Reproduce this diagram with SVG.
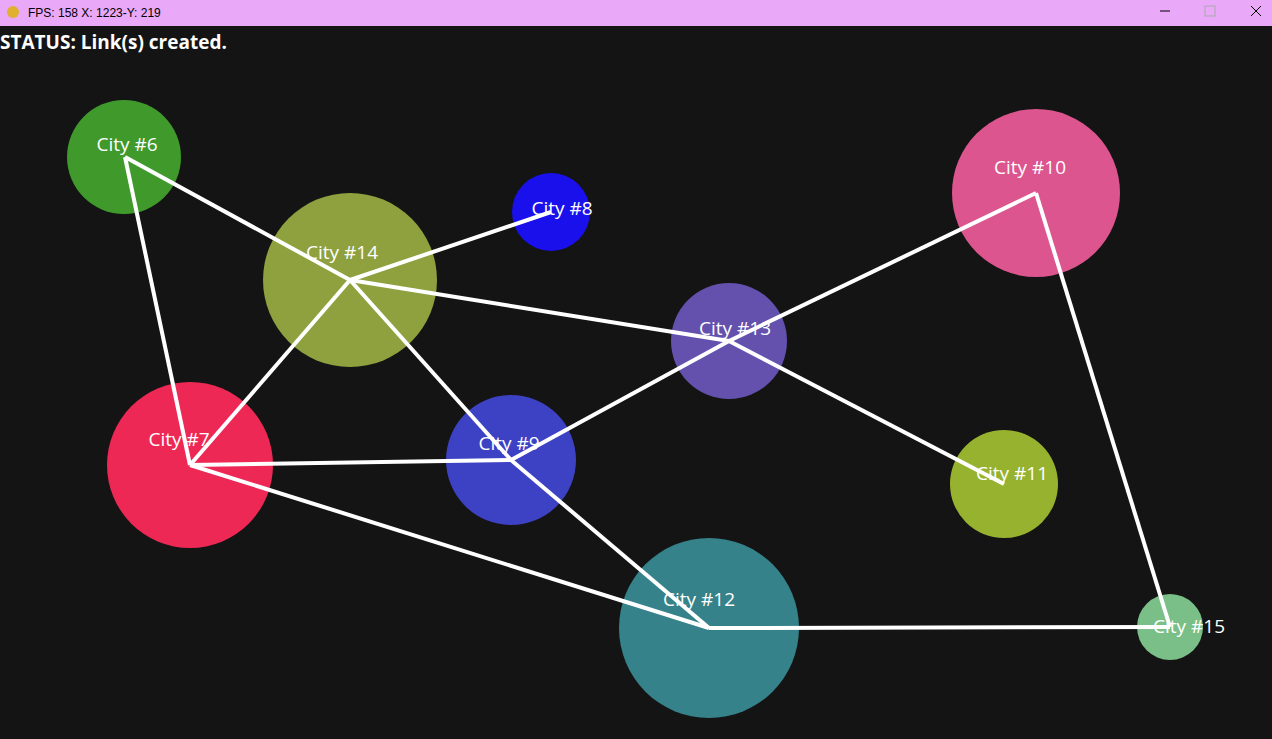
<svg xmlns="http://www.w3.org/2000/svg" width="1272" height="739" viewBox="0 0 1272 739">
<style>
.lbl{font-family:"Comic Sans MS","Open Sans",sans-serif;font-size:19px;fill:#fff;text-anchor:middle}
.e{stroke:#fff;stroke-width:4;fill:none}
</style>
<rect width="1272" height="739" fill="#141414"/>
<rect width="1272" height="26" fill="#e9a8f8"/>
<circle cx="13" cy="12" r="6" fill="#e0b030"/>
<text x="28" y="17" font-family="Liberation Sans,sans-serif" font-size="12" fill="#000">FPS: 158 X: 1223-Y: 219</text>
<line x1="1160" y1="11" x2="1170" y2="11" stroke="#000"/>
<rect x="1205" y="6" width="10" height="10" fill="none" stroke="#aaa"/>
<path d="M1251 6l10 10M1261 6l-10 10" stroke="#000"/>
<text x="0" y="49" font-family="Comic Sans MS,Open Sans,sans-serif" font-weight="bold" font-size="19" fill="#fff">STATUS: Link(s) created.</text>
<g id="n6"><circle cx="124" cy="157" r="57" fill="#3f992b"/></g>
<g id="n14"><circle cx="350" cy="280" r="87" fill="#8fa03f"/></g>
<g id="n8"><circle cx="551" cy="212" r="39" fill="#1a10ec"/></g>
<g id="n10"><circle cx="1036" cy="193" r="84" fill="#dc558e"/></g>
<g id="n13"><circle cx="729" cy="341" r="58" fill="#6351ad"/></g>
<g id="n7"><circle cx="190" cy="465" r="83" fill="#ee2855"/></g>
<g id="n9"><circle cx="511" cy="460" r="65" fill="#3d41c4"/></g>
<g id="n11"><circle cx="1004" cy="484" r="54" fill="#97b22e"/></g>
<g id="n12"><circle cx="709" cy="628" r="90" fill="#35828a"/></g>
<g id="n15"><circle cx="1170" cy="627" r="33" fill="#7abf87"/></g>
<g id="edges" class="e">
<line x1="125" y1="157" x2="350" y2="280"/>
<line x1="125" y1="157" x2="190" y2="465"/>
<line x1="350" y1="280" x2="551" y2="212"/>
<line x1="350" y1="280" x2="729" y2="341"/>
<line x1="350" y1="280" x2="190" y2="465"/>
<line x1="350" y1="280" x2="511" y2="460"/>
<line x1="729" y1="341" x2="1036" y2="193"/>
<line x1="729" y1="341" x2="511" y2="460"/>
<line x1="729" y1="341" x2="1004" y2="484"/>
<line x1="190" y1="465" x2="511" y2="460"/>
<line x1="190" y1="465" x2="709" y2="628"/>
<line x1="511" y1="460" x2="709" y2="628"/>
<line x1="709" y1="628" x2="1170" y2="627"/>
<line x1="1036" y1="193" x2="1170" y2="627"/>
</g>
<g id="labels">
<text class="lbl" x="127" y="151">City #6</text>
<text class="lbl" x="342" y="259">City #14</text>
<text class="lbl" x="562" y="215">City #8</text>
<text class="lbl" x="1030" y="174">City #10</text>
<text class="lbl" x="735" y="335">City #13</text>
<text class="lbl" x="179" y="446">City #7</text>
<text class="lbl" x="509" y="450">City #9</text>
<text class="lbl" x="1012" y="480">City #11</text>
<text class="lbl" x="699" y="606">City #12</text>
<text class="lbl" x="1189" y="633">City #15</text>
</g>
</svg>
